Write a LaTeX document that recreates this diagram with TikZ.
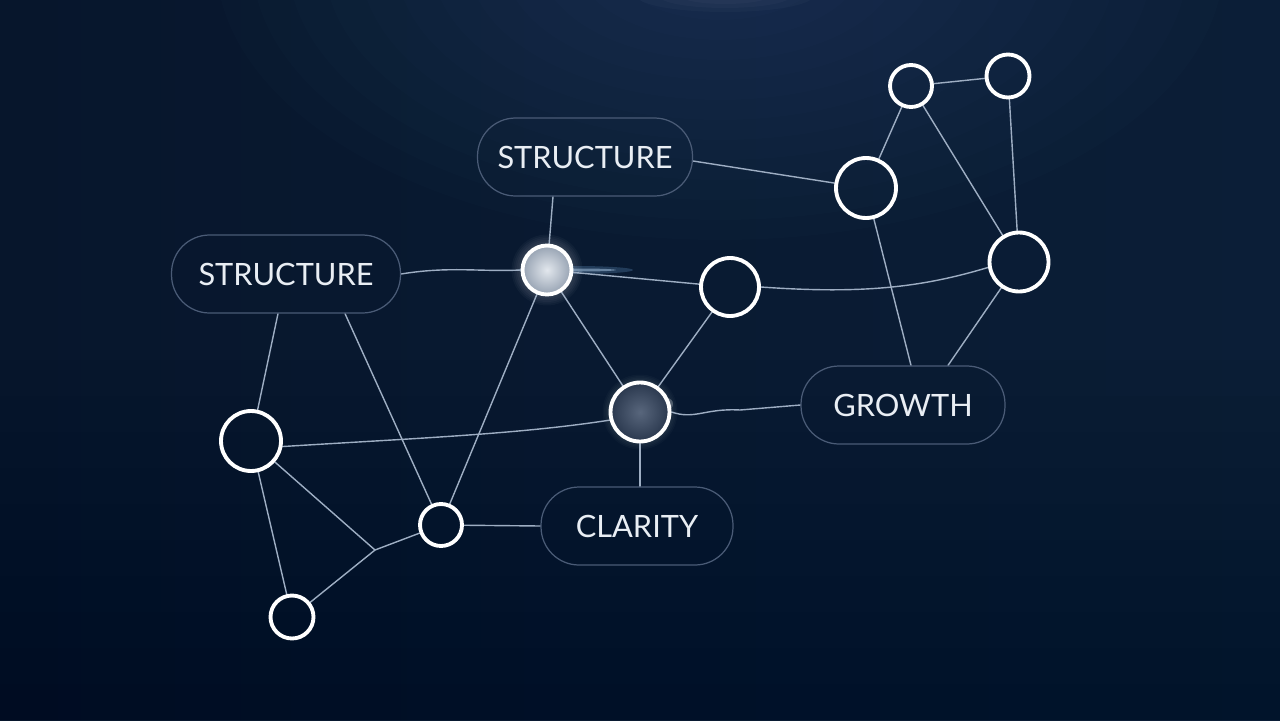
\documentclass[tikz,border=0pt]{standalone}
\usepackage{fontspec}
\setsansfont{Lato}
\usetikzlibrary{calc}
\definecolor{bgl}{HTML}{07162C}
\definecolor{bgm}{HTML}{112843}
\definecolor{bgr}{HTML}{0B1E37}
\definecolor{glowc}{HTML}{5A84B0}
\definecolor{edgec}{HTML}{9EAEC3}
\definecolor{pillc}{HTML}{4A5B76}
\definecolor{txtc}{HTML}{E9EEF4}
\definecolor{flare}{HTML}{7FB8F0}
\definecolor{ain}{HTML}{E2E7ED}
\definecolor{aout}{HTML}{96A2B2}
\definecolor{cin}{HTML}{58667C}
\definecolor{cout}{HTML}{2A384E}
\pgfdeclarelayer{back}
\pgfdeclarelayer{sky}
\pgfsetlayers{sky,back,main}
\begin{document}
\begin{tikzpicture}[x=0.02cm,y=-0.02cm,
  pill/.style={draw=pillc, line width=0.7pt, rounded corners=0.76cm, minimum height=1.56cm,
    text=txtc, font=\sffamily\fontsize{17.5}{20}\selectfont, inner sep=0pt},
  ring/.style={circle, draw=white, line width=2.2pt, inner sep=0pt, minimum size=#1},
  edge/.style={draw=edgec, line width=0.8pt, line cap=round},
]
\useasboundingbox (0,0) rectangle (1280,720);
\begin{pgfonlayer}{sky}
\shade[left color=bgl, middle color=bgm, right color=bgr] (0,0) rectangle (1280,720);
\begin{scope}
\clip (0,0) rectangle (1280,720);
\foreach \k in {1,...,10}
  \fill[black, opacity=0.018] (0,{720-\k*36}) rectangle (1280,720);
\foreach \k in {1,...,14}
  \fill[glowc, opacity=0.018] (720,-40) ellipse ({\k*36} and {\k*20});
\foreach \k in {1,...,4}
  \fill[white, opacity=0.025] (725,-4) ellipse ({\k*22} and {\k*4});
\end{scope}
\end{pgfonlayer}

% pills
\node[pill, minimum width=4.30cm] (s1) at (585,157) {STRUCTURE};
\node[pill, minimum width=4.58cm] (s2) at (286,274) {STRUCTURE};
\node[pill, minimum width=4.08cm] (gr) at (903,405) {GROWTH};
\node[pill, minimum width=3.84cm] (cl) at (637,526) {CLARITY};

% circles
\node[ring=0.98cm, inner color=ain, outer color=aout] (A) at (547,270) {};
\node[ring=1.16cm] (B) at (730,287) {};
\node[ring=1.18cm, inner color=cin, outer color=cout] (C) at (640,412) {};
\node[ring=1.20cm] (D) at (251,441) {};
\node[ring=0.84cm] (E) at (441,525) {};
\node[ring=0.86cm] (F) at (292,617) {};
\node[ring=1.20cm] (G) at (866,188) {};
\node[ring=0.84cm] (H) at (911,86) {};
\node[ring=0.86cm] (I) at (1008,76) {};
\node[ring=1.18cm] (J) at (1019,262) {};
\coordinate (j) at (375,550);

\begin{pgfonlayer}{back}
% glows
\foreach \k in {1,...,6}
  \fill[white, opacity=0.03] (A) circle ({0.5cm+\k*0.035cm});
\foreach \k in {1,...,5}
  \fill[white, opacity=0.025] (C) circle ({0.6cm+\k*0.03cm});
\fill[white, opacity=0.25] (667,404) circle (6);
\fill[flare, opacity=0.22] (575,270) ellipse (58 and 4);
\fill[flare!50!white, opacity=0.45] (580,270) ellipse (36 and 1.5);
% edges
\draw[edge] ($(s1.south)+(-32,0)$) -- (A);
\draw[edge] ($(s1.east)+(0,4)$) -- (G);
\draw[edge] (s2.east) .. controls (450,266) and (480,272) .. (A.west);
\draw[edge] ($(s2.south)+(-8,0)$) -- (D);
\draw[edge] ($(s2.south)+(59,0)$) -- (E);
\draw[edge] (A) -- (B);
\draw[edge] (A) -- (C);
\draw[edge] (A) -- (E);
\draw[edge] (B) -- (C);
\draw[edge] (B.east) .. controls (860,294) and (920,288) .. (J.190);
\draw[edge] (D.-10) .. controls (420,438) and (520,434) .. (C.195);
\draw[edge] (C.east) .. controls (695,420) and (705,408) .. (740,410) -- (gr.west);
\draw[edge] (C.south) -- (C.south |- cl.north);
\draw[edge] (E) -- (cl.west);
\draw[edge] (D) -- (F);
\draw[edge] (D) -- (j);
\draw[edge] (F) -- (j) -- (E);
\draw[edge] (G) -- (H);
\draw[edge] (H) -- (I);
\draw[edge] (H) -- (J);
\draw[edge] (I) -- (J);
\draw[edge] (G) -- ($(gr.north)+(8,0)$);
\draw[edge] (J) -- ($(gr.north)+(45,0)$);
\end{pgfonlayer}
\end{tikzpicture}
\end{document}
